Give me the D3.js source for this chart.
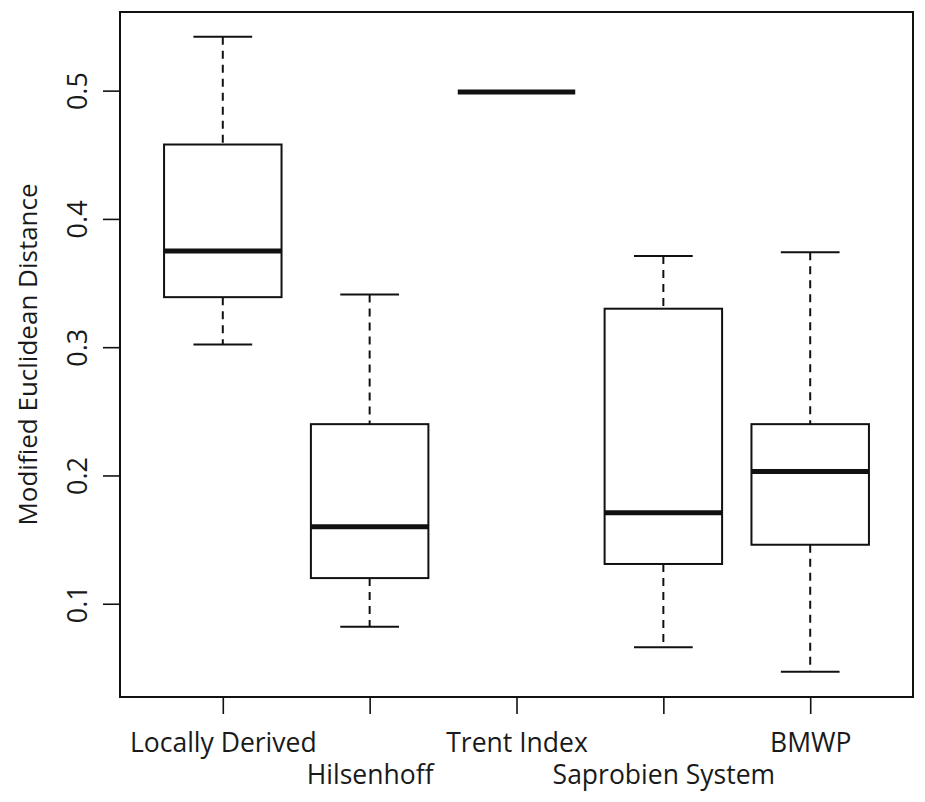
<!DOCTYPE html>
<html>
<head>
<meta charset="utf-8">
<script src="https://cdn.jsdelivr.net/npm/d3@7"></script>
<style>
  body { margin: 0; background: #fff; }
  text { font-family: "Open Sans", "Noto Sans", sans-serif; fill: #1a1a1a; }
</style>
</head>
<body>
<svg id="chart" width="925" height="802"></svg>
<script>
// values
let categories = ["Locally Derived", "Hilsenhoff", "Trent Index", "Saprobien System", "BMWP"];
let whiskerLow  = [0.302, 0.082, 0.499, 0.066, 0.047];
let q1          = [0.339, 0.120, 0.499, 0.131, 0.146];
let medians     = [0.375, 0.160, 0.499, 0.171, 0.203];
let q3          = [0.458, 0.240, 0.499, 0.330, 0.240];
let whiskerHigh = [0.542, 0.341, 0.499, 0.371, 0.374];
let yTicks = [0.1, 0.2, 0.3, 0.4, 0.5];

let svg = d3.select("#chart");
let plotLeft = 120, plotRight = 913, plotTop = 12, plotBottom = 697;

let boxes = categories.map((c, i) => ({
  name: c, pos: i + 1,
  lo: whiskerLow[i], q1: q1[i], med: medians[i], q3: q3[i], hi: whiskerHigh[i]
}));

let x = d3.scaleLinear().domain([0.3, 5.7]).range([plotLeft, plotRight]);
let y = d3.scaleLinear().domain([0.0273, 0.5613]).range([plotBottom, plotTop]);

let halfBox = x(1.4) - x(1);
let halfStaple = x(1.2) - x(1);

// Axes:
let yAxis = d3.axisLeft(y).tickValues(yTicks).tickSize(17).tickPadding(0).tickFormat(d3.format(".1f"));
let gy = svg.append("g").attr("transform", `translate(${plotLeft},0)`).call(yAxis);
gy.select(".domain").remove();
gy.selectAll(".tick line").attr("stroke", "#111").attr("stroke-width", 1.6);
gy.selectAll(".tick text")
  .attr("x", 0).attr("dy", null)
  .attr("transform", "translate(-44,0) rotate(-90)")
  .attr("text-anchor", "middle")
  .attr("dominant-baseline", "central")
  .attr("fill", "#1a1a1a")
  .style("font-size", "27px")
  .style("font-family", "'Open Sans', sans-serif");

let xAxis = d3.axisBottom(x).tickValues(boxes.map(d => d.pos)).tickSize(17).tickFormat(i => categories[i - 1]);
let gx = svg.append("g").attr("transform", `translate(0,${plotBottom})`).call(xAxis);
gx.select(".domain").remove();
gx.selectAll(".tick line").attr("stroke", "#111").attr("stroke-width", 1.6);
gx.selectAll(".tick text")
  .attr("dy", null)
  .attr("y", (d, i) => i % 2 === 0 ? 55 : 87)
  .attr("fill", "#1a1a1a")
  .style("font-size", "26.5px")
  .style("font-family", "'Open Sans', sans-serif");

// frame
svg.append("rect")
   .attr("x", plotLeft).attr("y", plotTop)
   .attr("width", plotRight - plotLeft).attr("height", plotBottom - plotTop)
   .attr("fill", "none").attr("stroke", "#111").attr("stroke-width", 2);

// y title
svg.append("text")
   .attr("transform", `translate(37,${(plotTop + plotBottom) / 2}) rotate(-90)`)
   .attr("text-anchor", "middle")
   .style("font-size", "26px")
   .text("Modified Euclidean Distance");

let g = svg.selectAll(".box").data(boxes).enter().append("g").attr("class", "box");

// whiskers
g.append("line")
 .attr("x1", d => x(d.pos)).attr("x2", d => x(d.pos))
 .attr("y1", d => y(d.hi)).attr("y2", d => y(d.q3))
 .attr("stroke", "#111").attr("stroke-width", 2).attr("stroke-dasharray", "8,6");
g.append("line")
 .attr("x1", d => x(d.pos)).attr("x2", d => x(d.pos))
 .attr("y1", d => y(d.q1)).attr("y2", d => y(d.lo))
 .attr("stroke", "#111").attr("stroke-width", 2).attr("stroke-dasharray", "8,6");

// staples
g.append("line")
 .attr("x1", d => x(d.pos) - halfStaple).attr("x2", d => x(d.pos) + halfStaple)
 .attr("y1", d => y(d.hi)).attr("y2", d => y(d.hi))
 .attr("stroke", "#111").attr("stroke-width", 2);
g.append("line")
 .attr("x1", d => x(d.pos) - halfStaple).attr("x2", d => x(d.pos) + halfStaple)
 .attr("y1", d => y(d.lo)).attr("y2", d => y(d.lo))
 .attr("stroke", "#111").attr("stroke-width", 2);

// boxes
g.append("rect")
 .attr("x", d => x(d.pos) - halfBox)
 .attr("width", 2 * halfBox)
 .attr("y", d => y(d.q3))
 .attr("height", d => y(d.q1) - y(d.q3))
 .attr("fill", "#fff").attr("stroke", "#111").attr("stroke-width", 2);

// medians
g.append("line")
 .attr("x1", d => x(d.pos) - halfBox).attr("x2", d => x(d.pos) + halfBox)
 .attr("y1", d => y(d.med)).attr("y2", d => y(d.med))
 .attr("stroke", "#111").attr("stroke-width", 5);
</script>
</body>
</html>
